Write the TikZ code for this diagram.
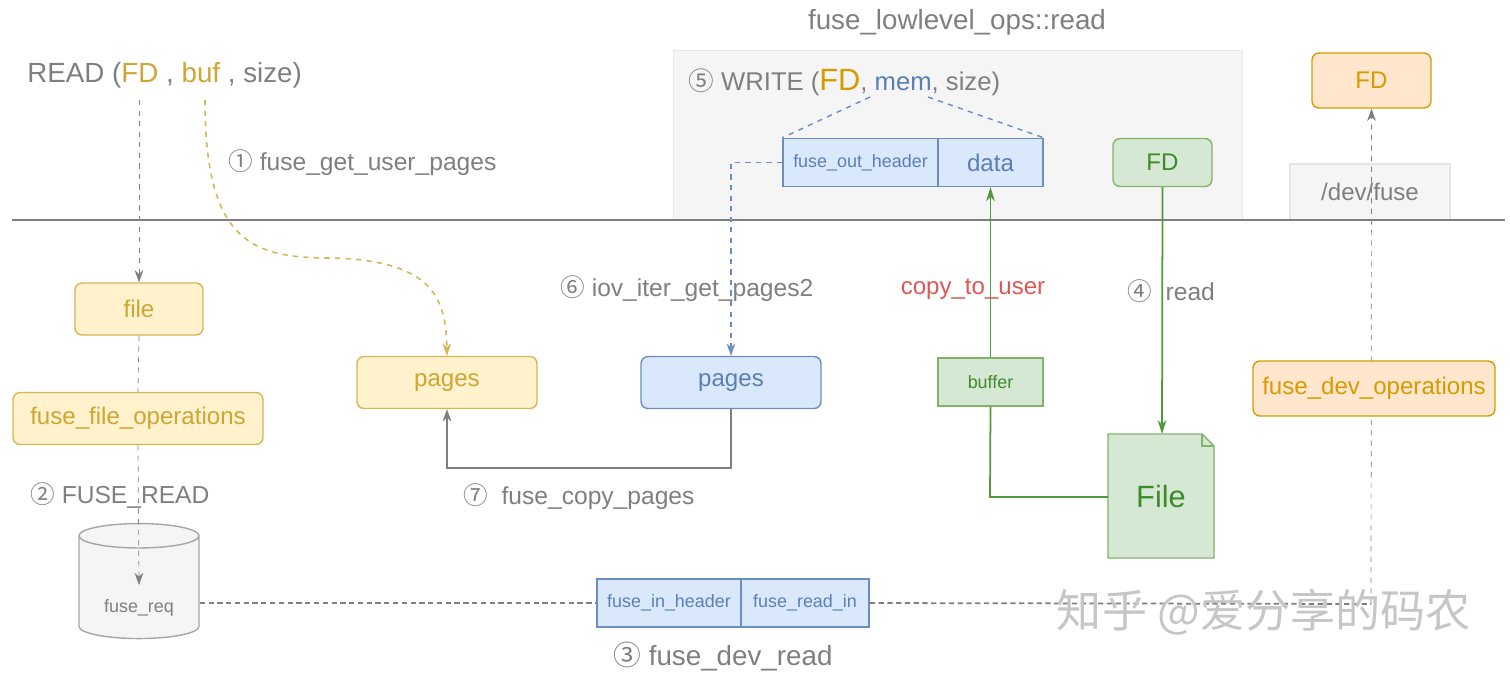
\documentclass[tikz,border=0pt]{standalone}
\usepackage{fontspec}
\setmainfont{Liberation Sans}
\newfontfamily\cjk{Noto Sans CJK SC}
\usetikzlibrary{arrows.meta,shapes.geometric,shapes.multipart,calc}
\definecolor{gtxt}{HTML}{7F7F7F}
\definecolor{yfill}{HTML}{FFF2CC}\definecolor{ydraw}{HTML}{D6B656}\definecolor{ytxt}{HTML}{CFA533}
\definecolor{bfill}{HTML}{DAE8FC}\definecolor{bdraw}{HTML}{6C8EBF}\definecolor{btxt}{HTML}{5A7FB5}
\definecolor{gfill}{HTML}{D5E8D4}\definecolor{gdraw}{HTML}{82B366}\definecolor{gtx}{HTML}{3F8A2A}\definecolor{gline}{HTML}{4F9A3A}
\definecolor{ofill}{HTML}{FFE6CC}\definecolor{odraw}{HTML}{D79B00}
\definecolor{rtxt}{HTML}{E05555}
\newcommand{\cn}[1]{{\cjk #1}}
\begin{document}
\begin{tikzpicture}[x=0.02cm,y=-0.02cm,
 box/.style={draw,line width=0.8pt,rounded corners=4pt,minimum height=#1*0.02cm,inner sep=0pt},
 ybox/.style={box=52,fill=yfill,draw=ydraw,text=ytxt,font=\fontsize{13.7}{15}\selectfont},
 bbox/.style={box=52,fill=bfill,draw=bdraw,text=btxt,font=\fontsize{13.7}{15}\selectfont},
 lab/.style={text=gtxt,font=\fontsize{14}{16}\selectfont,anchor=west,inner sep=0pt},
 garr/.style={draw=gtxt,dashed,-{Stealth[length=7pt,width=5pt]}},
 cell/.style={draw=bdraw,fill=bfill,line width=0.8pt,text=btxt,inner sep=0pt,minimum height=48*0.02cm}]
\useasboundingbox (0,0) rectangle (1510,680);
% user-space box
\fill[gray!8] (673,50) rectangle (1242,220);
\draw[gray!18] (673,220) -- (673,50) -- (1242,50) -- (1242,220);
\node[text=gtxt,font=\fontsize{15.8}{18}\selectfont] (title) at (957,22) {fuse\_lowlevel\_ops::read};
\node[lab,font=\fontsize{15.8}{18}\selectfont] (read) at (27,75) {READ (\textcolor{ytxt}{FD} , \textcolor{ytxt}{buf} , size)};
\node[lab,font=\fontsize{14.6}{17}\selectfont] (write) at (688,82) {\cn{⑤} WRITE (\textcolor{odraw}{\fontsize{17.5}{18}\selectfont FD}, \textcolor{btxt}{mem}, size)};
% out header
\node[cell,minimum width=155*0.02cm,font=\fontsize{10.2}{12}\selectfont] (oh) at (860.5,162.5) {fuse\_out\_header};
\node[cell,minimum width=105*0.02cm,font=\fontsize{13.7}{15}\selectfont] (data) at (990.5,162.5) {data};
\draw[bdraw,dashed,line width=0.8pt] (870,97) -- (oh.north west);
\draw[bdraw,dashed,line width=0.8pt] (928,97) -- (data.north east);
\node[box=48,minimum width=99*0.02cm,fill=gfill,draw=gdraw,text=gtx,font=\fontsize{13.7}{15}\selectfont] (gfd) at (1162.5,162.5) {FD};
\node[draw=gray!20,fill=gray!8,line width=0.8pt,minimum width=160*0.02cm,minimum height=56*0.02cm,text=gtxt,font=\fontsize{13.7}{15}\selectfont] (dev) at (1370,192) {/dev/fuse};
\node[box=55,minimum width=119*0.02cm,fill=ofill,draw=odraw,text=odraw,font=\fontsize{13.7}{15}\selectfont] (ofd) at (1371.5,80.5) {FD};
\draw[gtxt,line width=1pt] (12,220) -- (1505,220);
% left column
\node[ybox,minimum width=128*0.02cm] (file) at (139,309) {file};
\node[ybox,minimum width=250*0.02cm] (ffo) at (138,418.5) {fuse\_file\_operations};
\node[lab] (l2) at (30,496) {\cn{②} FUSE\_READ};
\node[cylinder,shape border rotate=90,draw=gray!70,fill=gray!8,line width=0.8pt,aspect=0.35,minimum width=120*0.02cm,minimum height=115*0.02cm,inner sep=0pt,font=\fontsize{10.2}{12}\selectfont] (req) at (139,587.5) {\phantom{fuse\_req}};
\node[text=gtxt,font=\fontsize{10.2}{12}\selectfont] (reqt) at (139,608) {fuse\_req};
\draw[garr] (139,100) -- (file.north);
\draw[gtxt,dashed] (file.south) -- (ffo.north);
\draw[garr] (ffo.south) -- (139,585);
% pages
\node[ybox,minimum width=180*0.02cm] (yp) at (447,382.5) {pages};
\node[bbox,minimum width=180*0.02cm] (bp) at (731,382.5) {pages};
\draw[ydraw,dashed,line width=0.9pt,-{Stealth[length=7pt,width=5pt]}] (205,100) .. controls (205,240) and (250,258) .. (330,258) .. controls (435,260) and (446,300) .. (yp.north);
\node[lab] (l1) at (228,163) {\cn{①} fuse\_get\_user\_pages};
\draw[bdraw,dashed,line width=0.8pt,-{Stealth[length=7pt,width=5pt]}] (oh.west) -- (731,162.5) -- (bp.north);
\node[lab] (l6) at (560,289) {\cn{⑥} iov\_iter\_get\_pages2};
\draw[gtxt,line width=1pt,-{Stealth[length=7pt,width=5pt]}] (bp.south) -- (731,468) -- (447,468) -- (yp.south);
\node[lab] (l7) at (463,497) {\cn{⑦}\ \ fuse\_copy\_pages};
% green part
\node[draw=gdraw,fill=gfill,line width=0.8pt,minimum width=105*0.02cm,minimum height=48*0.02cm,text=gtx,inner sep=0pt,font=\fontsize{10.2}{12}\selectfont] (buf) at (990.5,382) {buffer};
\draw[gline,line width=1pt,-{Stealth[length=8pt,width=5pt]}] (buf.north) -- (data.south);
\node[text=rtxt,font=\fontsize{13.7}{15}\selectfont] (ctu) at (973,289) {copy\_to\_user};
\draw[gdraw,fill=gfill,line width=0.8pt] (1108,434) -- (1202,434) -- (1214,446) -- (1214,558) -- (1108,558) -- cycle;
\draw[gdraw,line width=0.8pt] (1202,434) -- (1202,446) -- (1214,446);
\coordinate (filetop) at (1162,434);
\coordinate (fileleft) at (1108,497);
\node[text=gtx,font=\fontsize{17.5}{19}\selectfont] (filet) at (1161,496) {File};
\draw[gline,line width=1pt] (buf.south) -- (990,497) -- (fileleft);
\draw[gline,line width=1pt,-{Stealth[length=8pt,width=5pt]}] (gfd.south) -- (filetop);
\node[lab] (l4) at (1127,291) {\cn{④}\ \ read};
% right column
\coordinate (rbot) at (1371,604);
\draw[garr] (rbot) -- (ofd.south);
\node[box=55,minimum width=242*0.02cm,fill=ofill,draw=odraw,text=odraw,font=\fontsize{13.7}{15}\selectfont] (fdo) at (1374,388.5) {fuse\_dev\_operations};
% in header
\node[cell,minimum width=144*0.02cm,font=\fontsize{10.2}{12}\selectfont] (ih) at (669,603) {fuse\_in\_header};
\node[cell,minimum width=128*0.02cm,font=\fontsize{10.2}{12}\selectfont] (ri) at (805,603) {fuse\_read\_in};
\draw[gtxt,densely dashed,line width=1pt] (req.east |- ih.west) -- (ih.west);
\draw[gtxt,densely dashed,line width=1pt] (ri.east) -- (rbot);
\node[lab,font=\fontsize{15.8}{18}\selectfont] (l3) at (613,657) {\cn{③} fuse\_dev\_read};
\node[text=gray!45,font=\cjk\fontsize{25.7}{28}\selectfont] (wm) at (1264,612) {知乎 @爱分享的码农};
\end{tikzpicture}
\end{document}
